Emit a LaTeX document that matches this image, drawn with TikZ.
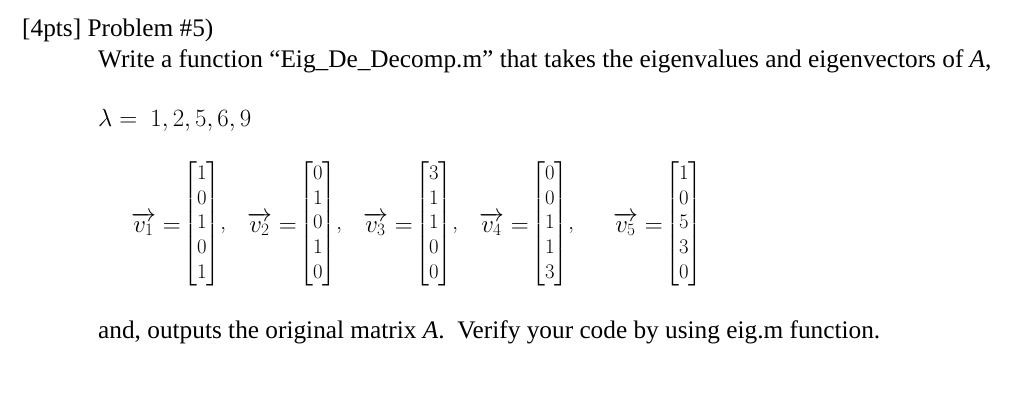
\documentclass[tikz,border=0pt]{standalone}
\usepackage{amsmath}
\usepackage{fontspec}
\setmainfont{Liberation Serif}
\begin{document}
\begin{tikzpicture}[x=1pt,y=-1pt,
  txt/.style={anchor=base west,inner sep=0pt,font=\fontsize{25.3}{30}\selectfont},
  lab/.style={anchor=east,inner sep=0pt,font=\fontsize{24}{28}\selectfont},
  mat/.style={anchor=west,inner sep=0pt,font=\fontsize{22}{26}\selectfont}]
\useasboundingbox (0,0) rectangle (1024,407);
\node[txt] (l1) at (22,36) {[4pts] Problem \#5)};
\node[txt] (l2) at (98,67) {Write a function “Eig\_De\_Decomp.m” that takes the eigenvalues and eigenvectors of \textit{A},};
\node[txt] (l3) at (98,126) {$\lambda = \ 1,2,5,6,9$};
\renewcommand{\arraystretch}{0.95}
\node[lab] (a1) at (181,224) {$\overrightarrow{v_1}=$};
\node[mat] (m1) at (183,224) {$\begin{bmatrix}1\\0\\1\\0\\1\end{bmatrix}\!,$};
\node[lab] (a2) at (297,224) {$\overrightarrow{v_2}=$};
\node[mat] (m2) at (299,224) {$\begin{bmatrix}0\\1\\0\\1\\0\end{bmatrix}\!,$};
\node[lab] (a3) at (413,224) {$\overrightarrow{v_3}=$};
\node[mat] (m3) at (415,224) {$\begin{bmatrix}3\\1\\1\\0\\0\end{bmatrix}\!,$};
\node[lab] (a4) at (529,224) {$\overrightarrow{v_4}=$};
\node[mat] (m4) at (531,224) {$\begin{bmatrix}0\\0\\1\\1\\3\end{bmatrix}\!,$};
\node[lab] (a5) at (663,224) {$\overrightarrow{v_5}=$};
\node[mat] (m5) at (665,224) {$\begin{bmatrix}1\\0\\5\\3\\0\end{bmatrix}$};
\node[txt] (l4) at (98,338) {and, outputs the original matrix \textit{A}.\ \ Verify your code by using eig.m function.};
\end{tikzpicture}
\end{document}
